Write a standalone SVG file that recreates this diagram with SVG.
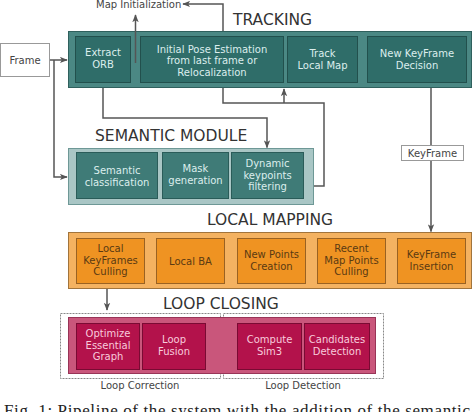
<svg xmlns="http://www.w3.org/2000/svg" width="474" height="412" viewBox="0 0 474 412">
<style>
text{font-family:"DejaVu Sans","Liberation Sans",sans-serif}
.h{font-size:15.5px;fill:#333}
.t{font-size:10px;text-anchor:middle}
.lbl{font-size:10px;fill:#444;text-anchor:middle}
.trO{fill:#4b8884;stroke:#2f605d;stroke-width:1}
.trI{fill:#2f6d69;stroke:#22504d;stroke-width:1}
.trT{fill:#dceeed}
.seO{fill:#a9c6c5;stroke:#6e9896;stroke-width:1}
.seI{fill:#3f7b77;stroke:#2a5c59;stroke-width:1}
.lmO{fill:#f4b261;stroke:#a1743c;stroke-width:1}
.lmI{fill:#ef9322;stroke:#9a6222;stroke-width:1}
.lmT{fill:#5a3a12}
.lcO{fill:#c9567b;stroke:#983457;stroke-width:1}
.lcI{fill:#b3124b;stroke:#7a0a33;stroke-width:1}
.lcT{fill:#f8cbdc}
.dash{fill:#fff;stroke:#888;stroke-width:1;stroke-dasharray:2 1}
.c{fill:none;stroke:#555;stroke-width:1.5}
</style>
<defs>
<marker id="ah" viewBox="0 0 10 8" refX="9" refY="4" markerWidth="8" markerHeight="7" markerUnits="userSpaceOnUse" orient="auto">
<path d="M0,0 L10,4 L0,8 L2.5,4 z" fill="#555"/>
</marker>
</defs>
<rect width="474" height="412" fill="#fff"/>

<g id="frame">
<rect x="0.5" y="43.5" width="49" height="33" fill="#fff" stroke="#999"/>
<text class="t" x="25" y="64" fill="#444">Frame</text>
</g>

<g id="tracking">
<text class="h" x="233" y="25">TRACKING</text>
<rect class="trO" x="68.5" y="31.5" width="403" height="56"/>
<g id="extract-orb"><rect class="trI" x="75.5" y="36.5" width="55" height="46"/>
<text class="t trT" x="103" y="56">Extract</text><text class="t trT" x="103" y="68">ORB</text></g>
<g id="initial-pose"><rect class="trI" x="140.5" y="36.5" width="143" height="46"/>
<text class="t trT" x="212" y="52.5">Initial Pose Estimation</text><text class="t trT" x="212" y="64">from last frame or</text><text class="t trT" x="212" y="75.5">Relocalization</text></g>
<g id="track-local-map"><rect class="trI" x="287.5" y="36.5" width="70" height="46"/>
<text class="t trT" x="322.5" y="57">Track</text><text class="t trT" x="322.5" y="69">Local Map</text></g>
<g id="new-keyframe-decision"><rect class="trI" x="367.5" y="36.5" width="99" height="46"/>
<text class="t trT" x="417" y="57">New KeyFrame</text><text class="t trT" x="417" y="69">Decision</text></g>
</g>

<g id="semantic">
<text class="h" x="95" y="141">SEMANTIC MODULE</text>
<rect class="seO" x="68.5" y="148.5" width="245" height="56"/>
<g id="semantic-classification"><rect class="seI" x="76.5" y="152.5" width="81" height="46"/>
<text class="t trT" x="117" y="174">Semantic</text><text class="t trT" x="117" y="185.5">classification</text></g>
<g id="mask-generation"><rect class="seI" x="162.5" y="152.5" width="66" height="46"/>
<text class="t trT" x="195.5" y="172">Mask</text><text class="t trT" x="195.5" y="183.5">generation</text></g>
<g id="dynamic-filtering"><rect class="seI" x="231.5" y="152.5" width="72" height="46"/>
<text class="t trT" x="267.5" y="167">Dynamic</text><text class="t trT" x="267.5" y="178.5">keypoints</text><text class="t trT" x="267.5" y="190">filtering</text></g>
</g>

<g id="local-mapping">
<text class="h" x="207" y="225">LOCAL MAPPING</text>
<rect class="lmO" x="68.5" y="232.5" width="403" height="56"/>
<g id="local-kf-culling"><rect class="lmI" x="76.5" y="238.5" width="68" height="45"/>
<text class="t lmT" x="110.5" y="252">Local</text><text class="t lmT" x="110.5" y="263.5">KeyFrames</text><text class="t lmT" x="110.5" y="275">Culling</text></g>
<g id="local-ba"><rect class="lmI" x="156.5" y="238.5" width="68" height="45"/>
<text class="t lmT" x="190.5" y="265">Local BA</text></g>
<g id="new-points"><rect class="lmI" x="237.5" y="238.5" width="68" height="45"/>
<text class="t lmT" x="271.5" y="258">New Points</text><text class="t lmT" x="271.5" y="269.5">Creation</text></g>
<g id="recent-culling"><rect class="lmI" x="317.5" y="238.5" width="68" height="45"/>
<text class="t lmT" x="351.5" y="252">Recent</text><text class="t lmT" x="351.5" y="263.5">Map Points</text><text class="t lmT" x="351.5" y="275">Culling</text></g>
<g id="kf-insertion"><rect class="lmI" x="397.5" y="238.5" width="68" height="45"/>
<text class="t lmT" x="431.5" y="258">KeyFrame</text><text class="t lmT" x="431.5" y="269.5">Insertion</text></g>
</g>

<g id="loop-closing">
<text class="h" x="163" y="309">LOOP CLOSING</text>
<g id="loop-correction"><rect class="dash" x="60.5" y="313.5" width="160" height="65"/>
<text class="lbl" x="140" y="389">Loop Correction</text></g>
<g id="loop-detection"><rect class="dash" x="223.5" y="313.5" width="160" height="65"/>
<text class="lbl" x="303" y="389">Loop Detection</text></g>
<rect class="lcO" x="68.5" y="317.5" width="307" height="56"/>
<g id="optimize-graph"><rect class="lcI" x="76.5" y="323.5" width="63" height="46"/>
<text class="t lcT" x="108" y="337">Optimize</text><text class="t lcT" x="108" y="348.5">Essential</text><text class="t lcT" x="108" y="360">Graph</text></g>
<g id="loop-fusion"><rect class="lcI" x="142.5" y="323.5" width="63" height="46"/>
<text class="t lcT" x="174" y="343">Loop</text><text class="t lcT" x="174" y="355">Fusion</text></g>
<g id="compute-sim3"><rect class="lcI" x="237.5" y="323.5" width="64" height="46"/>
<text class="t lcT" x="269.5" y="343">Compute</text><text class="t lcT" x="269.5" y="355">Sim3</text></g>
<g id="candidates-detection"><rect class="lcI" x="304.5" y="323.5" width="65" height="46"/>
<text class="t lcT" x="337" y="343">Candidates</text><text class="t lcT" x="337" y="355">Detection</text></g>
</g>

<g id="connectors">
<path class="c" d="M50,60 H67" marker-end="url(#ah)"/>
<path class="c" d="M54,60 V177 H67" marker-end="url(#ah)"/>
<path class="c" d="M103,88 V118 H267 V147.5" marker-end="url(#ah)"/>
<path class="c" d="M314,186 H324 V103 H223 V88"/>
<path class="c" d="M284,103 V89" marker-end="url(#ah)"/>
<path class="c" d="M223,31 V4 H183" marker-end="url(#ah)"/>
<path class="c" d="M135.5,63 V15" marker-end="url(#ah)"/>
<path class="c" d="M431,88 V231.5" marker-end="url(#ah)"/>
<path class="c" d="M107,289 V310" marker-end="url(#ah)"/>
<g id="keyframe-label">
<rect x="401.5" y="145.5" width="62" height="15" fill="#fff" stroke="#999"/>
<text class="lbl" x="432.5" y="156.5">KeyFrame</text>
</g>
</g>

<text x="96" y="8" font-size="10" fill="#444" style="font-family:'DejaVu Sans',sans-serif">Map Initialization</text>
<text x="4" y="415.5" font-size="17" fill="#222" textLength="466" lengthAdjust="spacing" style="font-family:'Liberation Serif','Times New Roman',serif">Fig. 1: Pipeline of the system with the addition of the semantic</text>
</svg>
